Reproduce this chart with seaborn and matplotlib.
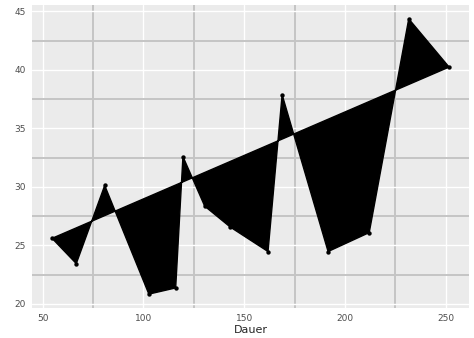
import matplotlib
matplotlib.use("Agg")
import matplotlib.pyplot as plt
import seaborn as sns
import pandas as pd
from matplotlib.ticker import MultipleLocator

dauer = [54.7, 66.7, 80.8, 102.7, 116.0, 119.6, 130.4, 143.1, 161.8, 168.8, 191.6, 212.0, 231.6, 251.6]
wert = [25.6, 23.44, 30.12, 20.83, 21.36, 32.59, 28.35, 26.56, 24.47, 37.88, 24.47, 26.09, 44.36, 40.24]
x_ticks = [50, 100, 150, 200, 250]
y_ticks = [20, 25, 30, 35, 40, 45]

df = pd.DataFrame({"Dauer": dauer, "Wert": wert})

sns.set_style("whitegrid")
plt.rcParams['font.family'] = ['DejaVu Sans']

fig = plt.figure(figsize=(4.74, 3.38), dpi=100)
ax = fig.add_axes([0.068, 0.089, 0.9215, 0.896])
ax.set_facecolor("#ebebeb")

ax.fill(df["Dauer"], df["Wert"], color="black", edgecolor="black", linewidth=1, zorder=3)
sns.scatterplot(data=df, x="Dauer", y="Wert", ax=ax, color="black", s=10, edgecolor="black", linewidth=0, zorder=4)

ax.set_xlim(44.85, 261.5)
ax.set_ylim(19.65, 45.54)
ax.set_xticks(x_ticks)
ax.set_yticks(y_ticks)
ax.xaxis.set_minor_locator(MultipleLocator(25))
ax.yaxis.set_minor_locator(MultipleLocator(2.5))
ax.grid(which="major", color="white", linewidth=1.0, zorder=1)
ax.grid(which="minor", color="#c4c4c4", linewidth=1.4, zorder=1)
ax.set_axisbelow(True)
for s in ax.spines.values():
    s.set_visible(False)
ax.tick_params(which="major", length=3, width=0.8, color="#444444", labelsize=6.5, labelcolor="#4d4d4d", pad=1.5)
ax.tick_params(which="minor", length=0)
ax.set_xlabel("Dauer", fontsize=8, labelpad=1)
ax.set_ylabel("")

fig.savefig("out.png", dpi=100)
